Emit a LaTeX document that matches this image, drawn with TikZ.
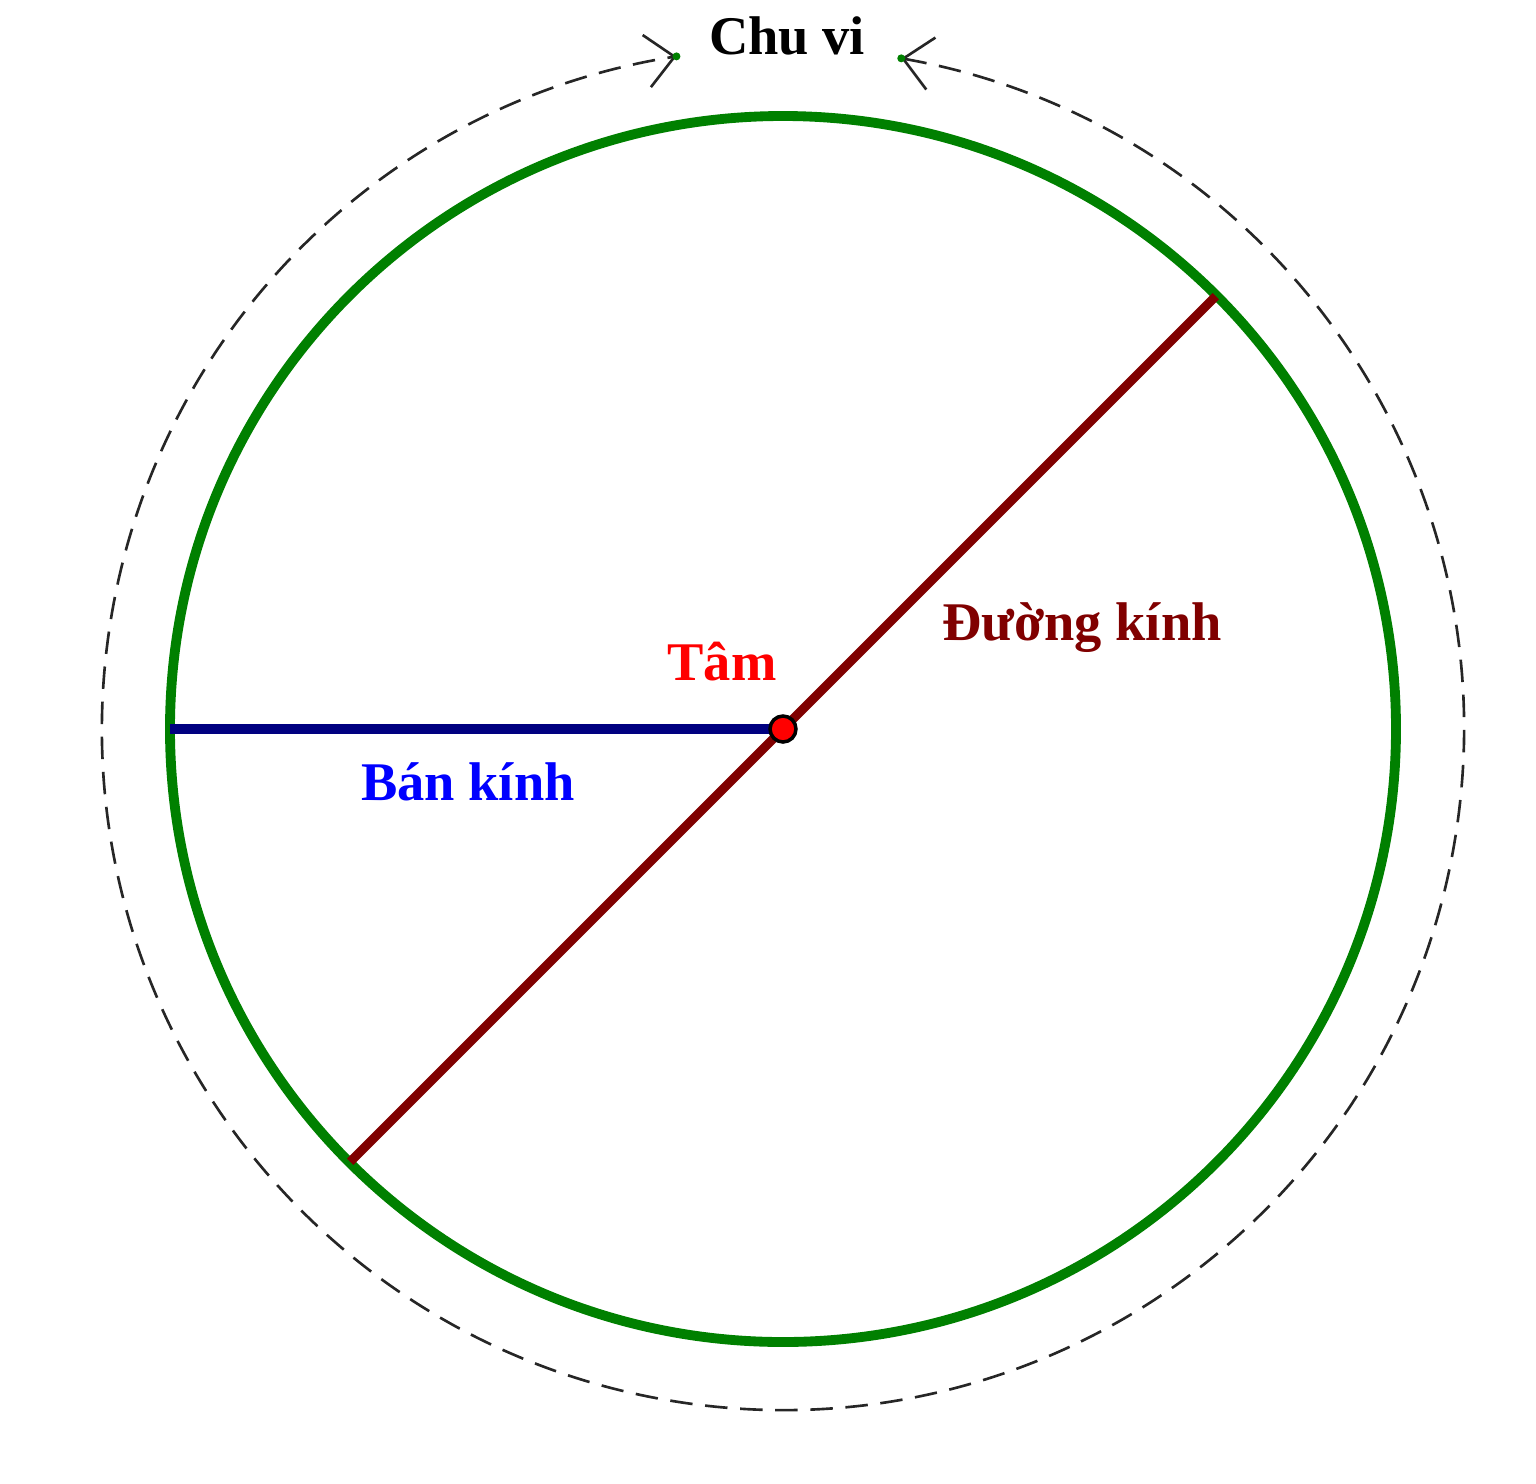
\documentclass[tikz,border=0pt]{standalone}
\usepackage{fontspec}
\setmainfont{Liberation Serif}
\usetikzlibrary{arrows.meta}
\definecolor{circgreen}{RGB}{0,128,0}
\definecolor{diamred}{RGB}{128,0,0}
\definecolor{radblue}{RGB}{0,0,128}
\definecolor{labelblue}{RGB}{0,0,255}
\tikzset{
  lbl/.style={font=\fontsize{15.5}{18}\selectfont\bfseries, anchor=base, inner sep=0pt},
  thick line/.style={line width=2.6pt},
  perim/.style={dash pattern=on 6.4pt off 3.6pt, line width=0.75pt, black!85,
    >={Straight Barb[length=8pt,width=15pt]}, <->}
}
\begin{document}
\begin{tikzpicture}
    \useasboundingbox (-7.83,-7.54) rectangle (7.53,7.29);

    % Nodes
    \coordinate (O) at (0,0);
    \coordinate (L) at (180:6.13);
    \coordinate (A) at (45:6.12);
    \coordinate (B) at (225:6.12);
    \coordinate (P) at (80:6.81);
    \coordinate (Q) at (99:6.81);
    \node[lbl] (chuvi) at (0.04,6.74) {Chu vi};
    \node[lbl, text=red] (tam) at (-0.61,0.49) {Tâm};
    \node[lbl, text=diamred] (duongkinh) at (2.99,0.89) {Đường kính};
    \node[lbl, text=labelblue] (bankinh) at (-3.15,-0.71) {Bán kính};

    % Circles
    \draw[circgreen, line width=2.8pt] (O) circle[radius=6.13];
    \draw[perim] (P) arc[start angle=80, end angle=-261, radius=6.81];
    \fill[circgreen] (P) circle[radius=0.04];
    \fill[circgreen] (Q) circle[radius=0.04];

    % Lines
    \draw[thick line, radblue] (L) -- (O);
    \draw[thick line, diamred] (B) -- (A);
    \filldraw[fill=red, draw=black, line width=1pt] (O) circle[radius=0.13];

\end{tikzpicture}
\end{document}
